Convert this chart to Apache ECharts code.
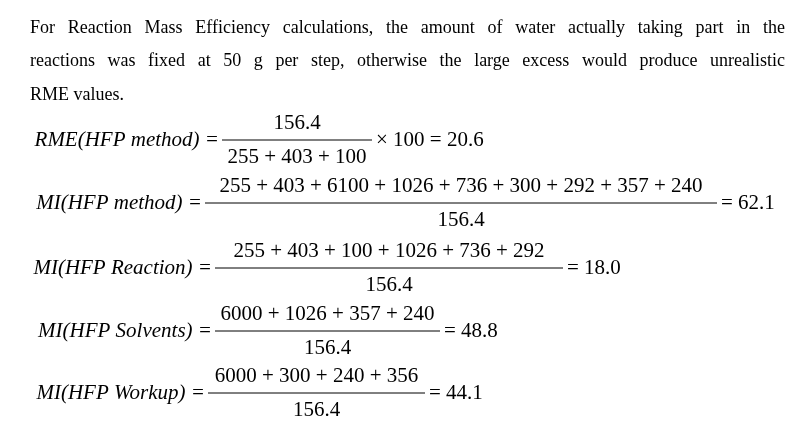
<!DOCTYPE html>
<html>
<head>
<meta charset="utf-8">
<script src="https://cdn.jsdelivr.net/npm/echarts@6/dist/echarts.min.js"></script>
<style>html,body{margin:0;background:#fff}#c{width:810px;height:435px}</style>
</head>
<body>
<div id="c"></div>
<script>
var paragraph = [
  'For Reaction Mass Efficiency calculations, the amount of water actually taking part in the',
  'reactions was fixed at 50 g per step, otherwise the large excess would produce unrealistic',
  'RME values.'
];
var eqLabels = ['RME(HFP method) =', 'MI(HFP method) =', 'MI(HFP Reaction) =', 'MI(HFP Solvents) =', 'MI(HFP Workup) ='];
var numerators = ['156.4', '255 + 403 + 6100 + 1026 + 736 + 300 + 292 + 357 + 240',
  '255 + 403 + 100 + 1026 + 736 + 292', '6000 + 1026 + 357 + 240', '6000 + 300 + 240 + 356'];
var denominators = ['255 + 403 + 100', '156.4', '156.4', '156.4', '156.4'];
var results = ['× 100 = 20.6', '= 62.1', '= 18.0', '= 48.8', '= 44.1'];

// layout
var rowY = [140, 203, 268, 331, 393];
var lineX = [[222, 372], [205, 717], [215, 563], [215, 440], [208, 425]];
var paraFont = '18px "Liberation Serif"';
var eqFont = '21px "Liberation Serif"';

var ctx = document.createElement('canvas').getContext('2d');
ctx.font = paraFont;

var chart = echarts.init(document.getElementById('c'));
var els = [];
paragraph.forEach(function (t, i) {
  var y = 28 + i * 33.5;
  var words = t.split(' ');
  var justify = i < paragraph.length - 1;
  var widths = words.map(function (w) { return ctx.measureText(w).width; });
  var total = widths.reduce(function (a, b) { return a + b; }, 0);
  var gap = justify ? (785 - 30 - total) / (words.length - 1) : ctx.measureText(' ').width;
  var x = 30;
  words.forEach(function (w, k) {
    els.push({ type: 'text', x: x, y: y, style: { text: w, font: paraFont, fill: '#000',
      align: 'left', verticalAlign: 'middle' } });
    x += widths[k] + gap;
  });
});
eqLabels.forEach(function (lab, i) {
  var y = rowY[i], x0 = lineX[i][0], x1 = lineX[i][1], cx = (x0 + x1) / 2;
  els.push({ type: 'text', x: x0 - 3, y: y, style: { text: lab, font: 'italic ' + eqFont,
    fill: '#000', align: 'right', verticalAlign: 'middle' } });
  els.push({ type: 'line', shape: { x1: x0, y1: y, x2: x1, y2: y }, style: { stroke: '#000', lineWidth: 1 } });
  els.push({ type: 'text', x: cx, y: y - 17, style: { text: numerators[i], font: eqFont,
    fill: '#000', align: 'center', verticalAlign: 'middle' } });
  els.push({ type: 'text', x: cx, y: y + 17, style: { text: denominators[i], font: eqFont,
    fill: '#000', align: 'center', verticalAlign: 'middle' } });
  els.push({ type: 'text', x: x1 + 4, y: y, style: { text: results[i], font: eqFont,
    fill: '#000', align: 'left', verticalAlign: 'middle' } });
});
chart.setOption({ animation: false, graphic: { elements: els } });
</script>
</body>
</html>
